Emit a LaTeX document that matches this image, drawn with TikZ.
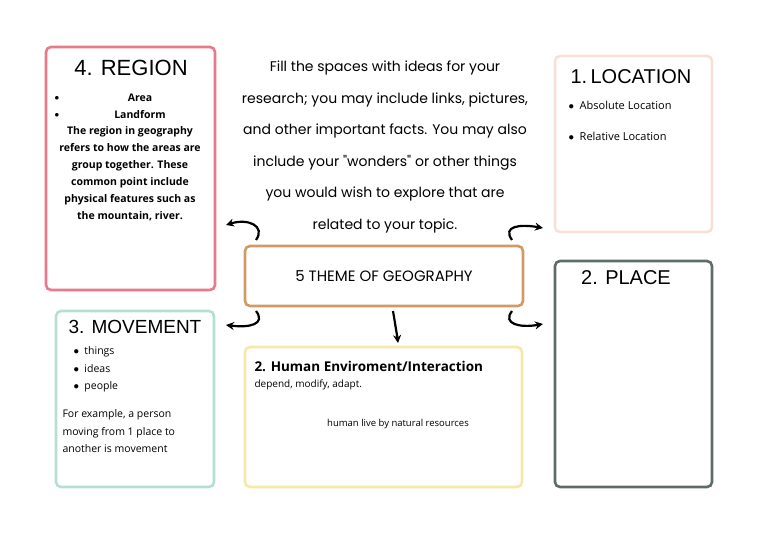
\documentclass[tikz,border=0pt]{standalone}
\usepackage{fontspec}
\setmainfont{Open Sans}
\newfontfamily\headfont{Liberation Sans}
\newfontfamily\handfont{Poppins}
\usetikzlibrary{arrows.meta}
\definecolor{regioncol}{HTML}{E87A8A}
\definecolor{loccol}{HTML}{F8E0D8}
\definecolor{placecol}{HTML}{5F6B66}
\definecolor{movecol}{HTML}{B5E0D0}
\definecolor{humancol}{HTML}{F8E8A8}
\definecolor{themecol}{HTML}{D09A64}
\tikzset{
  card/.style={draw=#1, line width=2.6pt, rounded corners=5pt},
  curl/.style={-{Stealth[length=8pt,width=8pt]}, line width=2.2pt, black}
}
\begin{document}
\begin{tikzpicture}[x=1pt,y=-1pt]
\useasboundingbox (0,0) rectangle (768,544);
\draw[card=regioncol] (46,47) rectangle (215,290);
\draw[card=loccol] (555,56) rectangle (712,232);
\draw[card=placecol] (555,261) rectangle (712,487);
\draw[card=movecol] (56,311) rectangle (214,487);
\draw[card=humancol] (245,347) rectangle (522,487);
\draw[card=themecol] (245,246) rectangle (523,306);

\node (region) at (131,68) {\headfont\fontsize{22}{24}\selectfont 4. REGION};
\node[font=\bfseries\fontsize{10.5}{11}\selectfont] (area) at (140,98) {Area};
\node[font=\bfseries\fontsize{10.5}{11}\selectfont] (landform) at (140,115) {Landform};
\node at (57,98) {\small$\bullet$};
\node at (57,115) {\small$\bullet$};
\node[font=\bfseries\fontsize{10.5}{17}\selectfont, align=center, inner sep=0pt] (regiontxt) at (130,174)
  {The region in geography\\refers to how the areas are\\group together. These\\common point include\\physical features such as\\the mountain, river.};

\node (loc) at (631,77) {\headfont\fontsize{20}{22}\selectfont 1.\,LOCATION};
\node[font=\fontsize{11}{12}\selectfont, anchor=west] (abs) at (565,105) {$\bullet$\ \ Absolute Location};
\node[font=\fontsize{11}{12}\selectfont, anchor=west] (rel) at (565,136) {$\bullet$\ \ Relative Location};

\node (place) at (626,278) {\headfont\fontsize{20}{22}\selectfont 2. PLACE};

\node (move) at (135,327) {\headfont\fontsize{19}{21}\selectfont 3. MOVEMENT};
\node[font=\fontsize{10.5}{17.5}\selectfont, anchor=north west, align=left] (movelist) at (70,343)
  {$\bullet$\ \ things\\$\bullet$\ \ ideas\\$\bullet$\ \ people};
\node[font=\fontsize{10.5}{17.5}\selectfont, anchor=north west, align=left] (movetxt) at (59,406)
  {For example, a person\\moving from 1 place to\\another is movement};

\node[font=\bfseries\fontsize{13.5}{14}\selectfont, anchor=west] (human) at (251,366) {2. Human Enviroment/Interaction};
\node[font=\fontsize{10}{10}\selectfont, anchor=west] (humansub) at (251,385) {depend, modify, adapt.};
\node[font=\fontsize{9.5}{10}\selectfont] (humannote) at (398,424) {human live by natural resources};

\node (theme) at (384,276) {\handfont\fontsize{15}{16}\selectfont 5 THEME OF GEOGRAPHY};
\node[font=\handfont\fontsize{14}{31.5}\selectfont, align=center] (intro) at (385,147)
  {Fill the spaces with ideas for your\\research; you may include links, pictures,\\and other important facts. You may also\\include your "wonders" or other things\\you would wish to explore that are\\related to your topic.};

\coordinate (a1) at (256,240); \coordinate (b1) at (226,225);
\coordinate (a2) at (512,240); \coordinate (b2) at (543,228);
\coordinate (a3) at (256,311); \coordinate (b3) at (226,325);
\coordinate (a4) at (512,311); \coordinate (b4) at (543,324);
\coordinate (a5) at (393,311); \coordinate (b5) at (398,343);
\draw[curl] (a1) .. controls (266,226) and (248,218) .. (b1);
\draw[curl] (a2) .. controls (502,226) and (520,224) .. (b2);
\draw[curl] (a3) .. controls (266,324) and (250,328) .. (b3);
\draw[curl] (a4) .. controls (502,324) and (520,328) .. (b4);
\draw[curl] (a5) .. controls (396,324) .. (b5);
\end{tikzpicture}
\end{document}
